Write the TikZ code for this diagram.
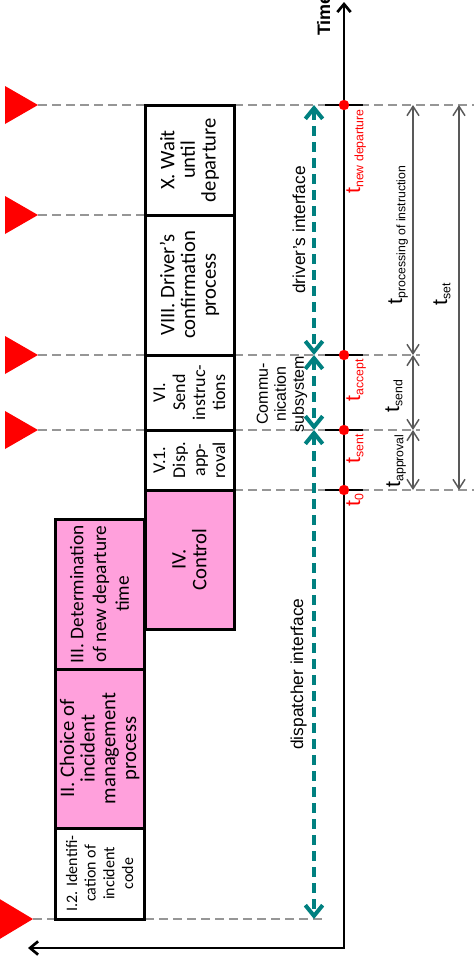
\documentclass[tikz,border=0pt]{standalone}
\usepackage{fontspec}
\setmainfont{Carlito}
\newfontfamily\arial{Liberation Sans}
\usetikzlibrary{arrows.meta}
\definecolor{pinkf}{RGB}{255,160,220}
\definecolor{tealc}{RGB}{0,128,128}
\definecolor{dimg}{RGB}{89,89,89}
\definecolor{dashg}{RGB}{150,150,150}
\definecolor{redc}{RGB}{255,0,0}
\newcommand\mytsub[4]{{\fontsize{#1}{#1}\selectfont t}\raisebox{-#3}{\fontsize{#2}{#2}\selectfont #4}}
\begin{document}
\begin{tikzpicture}[x=0.75pt,y=-0.75pt,
  box/.style={draw=black, line width=2.25pt, rotate=90, align=center, inner sep=0pt, minimum height=66.75pt, fill=white},
  pinkbox/.style={box, fill=pinkf},
  bigtxt/.style={font=\fontsize{15.5}{15.5}\selectfont},
  smalltxt/.style={font=\fontsize{12}{14}\selectfont},
  guide/.style={draw=dashg, line width=1.1pt, dash pattern=on 6.5pt off 4pt},
  tri/.style={fill=redc, draw=none},
  axis/.style={draw=black, line width=2pt},
  tickmark/.style={draw=black, line width=2pt},
  dot/.style={fill=redc},
  iface/.style={draw=tealc, line width=3pt, dash pattern=on 7.5pt off 4.5pt,
     {Straight Barb[length=8pt,width=13pt]}-{Straight Barb[length=8pt,width=13pt]}},
  dimarrow/.style={draw=dimg, line width=1.1pt,
     {Straight Barb[length=7pt,width=9pt]}-{Straight Barb[length=7pt,width=9pt]}},
  redlab/.style={text=redc, rotate=90, inner sep=0pt, font=\arial},
  dimlab/.style={text=black, rotate=90, inner sep=0pt, font=\arial},
  ifacelab/.style={text=black, rotate=90, inner sep=0pt, font=\arial\fontsize{13}{13}\selectfont, align=center}
]
\useasboundingbox (0,0) rectangle (474,957);
\clip (0,0) rectangle (474,957);

% coordinates
\foreach \n/\y in {a/105,b/215,c/355,d/430} {
  \coordinate (tri\n) at (38,\y);
}
\coordinate (trie) at (33,919);
\coordinate (tnew) at (344,105);
\coordinate (tacc) at (344,355);
\coordinate (tsnt) at (344,430);
\coordinate (tzero) at (344,490);
\coordinate (origin) at (344,948);
\coordinate (axtop) at (344,2);
\coordinate (axleft) at (28,948);

% triangles
\foreach \y in {105,215,355,430} {
  \path[tri] (5,\y-19) -- (38,\y) -- (5,\y+19) -- cycle;
}
\path[tri] (-2,898) -- (33,919) -- (-2,940) -- cycle;

% guide lines
\draw[guide] (tria) -- (474,105);
\draw[guide] (trib) -- (145,215);
\draw[guide] (tric) -- (420,355);
\draw[guide] (trid) -- (420,430);
\draw[guide] (234,490) -- (474,490);
\draw[guide] (trie) -- (325,919);

% boxes column 1
\node[box, bigtxt, minimum width=82.5pt] (bx) at (189.5,160) {X. Wait\\until\\departure};
\node[box, bigtxt, minimum width=105pt] (bviii) at (189.5,285) {VIII. Driver’s\\confirmation\\process};
\node[box, font=\fontsize{13.5}{15}\selectfont, minimum width=56.25pt] (bvi) at (189.5,392.5) {VI.\\Send\\instruc-\\tions};
\node[box, font=\fontsize{13.5}{15}\selectfont, minimum width=45pt] (bv) at (189.5,460) {V.1.\\Disp.\\app-\\roval};
\node[pinkbox, bigtxt, minimum width=104.25pt] (biv) at (189.5,559.5) {IV.\\Control};
% column 2
\node[pinkbox, font=\fontsize{14.5}{17}\selectfont, minimum width=112.5pt] (biii) at (99.5,594) {III. Determination\\of new departure\\time};
\node[pinkbox, bigtxt, minimum width=119.25pt] (bii) at (99.5,748.5) {II. Choice of\\incident\\management\\process};
\node[box, smalltxt, minimum width=68.25pt] (bi) at (99.5,873.5) {I.2. Identifi-\\cation of\\incident\\code};

% time axis
\draw[axis, {Straight Barb[length=6pt,width=10pt]}-{Straight Barb[length=6pt,width=10pt]}] (axleft) -- (origin) -- (axtop);
\node[rotate=90, anchor=base west, inner sep=0pt, font=\arial\bfseries\fontsize{13.5}{13.5}\selectfont] (timelab) at (330,36) {Time};

% ticks and dots
\foreach \c in {tnew,tacc,tsnt,tzero} {
  \draw[tickmark] ([xshift=-14.25pt]\c) -- ([xshift=14.25pt]\c);
  \fill[dot] (\c) circle[radius=3.9pt];
}

% red labels
\node[redlab, anchor=base east] (lnew) at (360,109) {\mytsub{16}{9.2}{2.5pt}{new departure}};
\node[redlab, anchor=base east] (lacc) at (360,359) {\mytsub{16}{9.2}{2.5pt}{accept}};
\node[redlab, anchor=base east] (lsnt) at (360,434) {\mytsub{16}{9.2}{2.5pt}{sent}};
\node[redlab, anchor=base east] (lzero) at (360,493) {\mytsub{16}{9.2}{2.5pt}{0}};

% interface arrows
\coordinate (ia) at (314,105);
\coordinate (ib) at (314,355);
\coordinate (ic) at (314,430);
\coordinate (id) at (314,919);
\draw[iface] (ia) -- (ib);
\draw[iface] (ib) -- (ic);
\draw[iface] (ic) -- (id);
\node[ifacelab, anchor=base] (ldrv) at (305,230) {driver’s interface};
\node[ifacelab, anchor=base] (ldisp) at (303,674) {dispatcher interface};
\node[ifacelab, font=\arial\fontsize{12}{13.5}\selectfont] (lcomm) at (282,394) {Commu-\\nication\\subsystem};

% dimension arrows
\coordinate (da) at (413,105);
\coordinate (db) at (413,355);
\coordinate (dc) at (413,430);
\coordinate (dd) at (413,490);
\coordinate (sa) at (459,105);
\coordinate (sb) at (459,490);
\draw[dimarrow] (da) -- (db);
\draw[dimarrow] (db) -- (dc);
\draw[dimarrow] (dc) -- (dd);
\draw[dimarrow] (sa) -- (sb);
\node[dimlab, anchor=base] (lproc) at (402,235) {\mytsub{16}{9.2}{2.5pt}{processing of instruction}};
\node[dimlab, anchor=base] (lset) at (447,294) {\mytsub{16}{9.2}{2.5pt}{set}};
\node[dimlab, anchor=base] (lsend) at (399,396) {\mytsub{16}{9.2}{2.5pt}{send}};
\node[dimlab, anchor=base] (lappr) at (400,461) {\mytsub{16}{9.2}{2.5pt}{approval}};
\end{tikzpicture}
\end{document}
